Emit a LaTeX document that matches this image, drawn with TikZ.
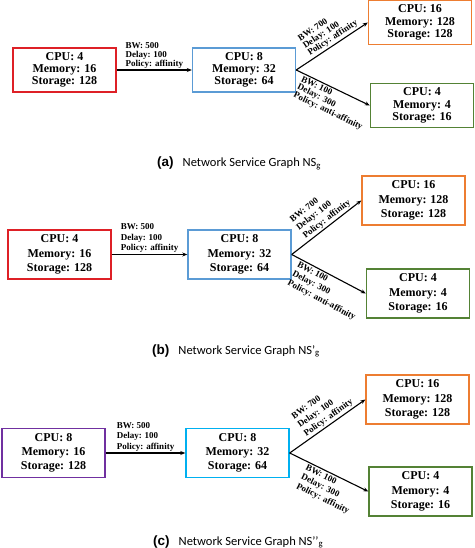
\documentclass[tikz,border=0pt]{standalone}
\usepackage{fontspec}
\setmainfont{Liberation Serif}
\newfontfamily\capfont{Carlito}
\newfontfamily\tagfont{Liberation Sans}
\usetikzlibrary{arrows.meta}
\definecolor{vnfred}{RGB}{222,32,38}
\definecolor{vnfblue}{RGB}{91,155,213}
\definecolor{vnforange}{RGB}{237,125,49}
\definecolor{vnfgreen}{RGB}{84,130,53}
\definecolor{vnfpurple}{RGB}{112,48,160}
\definecolor{vnfcyan}{RGB}{0,176,240}

\tikzset{
  vnf/.style={draw=#1, line width=1.4pt, minimum width=103pt, minimum height=49pt,
    align=center, inner sep=2pt, font=\bfseries\fontsize{12}{14.2}\selectfont},
  flat/.style={minimum height=44pt, font=\bfseries\fontsize{12}{12.2}\selectfont},
  link/.style={->, line width=1.1pt},
  linklabel/.style={align=left, inner sep=1.5pt, font=\bfseries\fontsize{9}{10.5}\selectfont},
  flatlabel/.style={font=\bfseries\fontsize{9}{8.8}\selectfont},
  caption/.style={anchor=base west, inner sep=0pt, font=\capfont\fontsize{12.5}{15}\selectfont}
}
\newcommand{\paneltag}[1]{{\tagfont\bfseries\fontsize{13.5}{15}\selectfont(#1)}\hspace{9pt}}

\begin{document}
\begin{tikzpicture}[x=1pt, y=-1pt, >={Stealth[length=5pt, width=4pt]}]
    \useasboundingbox (0,0) rectangle (474,548);

    % (a)
    \node[vnf=vnfred, flat] (srcA) at (64.5,70) {CPU: 4\\Memory: 16\\Storage: 128};
    \node[vnf=vnfblue, flat] (midA) at (244,70) {CPU: 8\\Memory: 32\\Storage: 64};
    \node[vnf=vnforange, flat] (upA) at (420,22.5) {CPU: 16\\Memory: 128\\Storage: 128};
    \node[vnf=vnfgreen, flat] (downA) at (422,105.5) {CPU: 4\\Memory: 4\\Storage: 16};

    \draw[link] (srcA) -- node[linklabel, flatlabel, above] {BW: 500\\Delay: 100\\Policy: affinity} (midA);
    \draw[link] (midA.east) -- node[linklabel, flatlabel, sloped, above, pos=0.56] {BW: 700\\Delay: 100\\Policy: affinity} (upA.west);
    \draw[link] (midA.east) -- node[linklabel, flatlabel, sloped, below, pos=0.57] {BW: 100\\Delay: 300\\Policy: anti-affinity} (downA.west);

    \node[caption] (capA) at (157,167) {\paneltag{a}Network Service Graph NS\textsubscript{g}};

    % (b)
    \node[vnf=vnfred] (srcB) at (59.5,254.5) {CPU: 4\\Memory: 16\\Storage: 128};
    \node[vnf=vnfblue] (midB) at (239.5,254.5) {CPU: 8\\Memory: 32\\Storage: 64};
    \node[vnf=vnforange] (upB) at (413.5,200.5) {CPU: 16\\Memory: 128\\Storage: 128};
    \node[vnf=vnfgreen] (downB) at (418,293.5) {CPU: 4\\Memory: 4\\Storage: 16};

    \draw[link] (srcB) -- node[linklabel, above] {BW: 500\\Delay: 100\\Policy: affinity} (midB);
    \draw[link] (midB.east) -- node[linklabel, sloped, above, pos=0.56] {BW: 700\\Delay: 100\\Policy: affinity} (upB.west);
    \draw[link] (midB.east) -- node[linklabel, sloped, below, pos=0.57] {BW: 100\\Delay: 300\\Policy: anti-affinity} (downB.west);

    \node[caption] (capB) at (152,354) {\paneltag{b}Network Service Graph NS’\textsubscript{g}};

    % (c)
    \node[vnf=vnfpurple] (srcC) at (53.5,453) {CPU: 8\\Memory: 16\\Storage: 128};
    \node[vnf=vnfcyan] (midC) at (237.5,453) {CPU: 8\\Memory: 32\\Storage: 64};
    \node[vnf=vnforange] (upC) at (417.5,399.5) {CPU: 16\\Memory: 128\\Storage: 128};
    \node[vnf=vnfgreen] (downC) at (420.5,491.5) {CPU: 4\\Memory: 4\\Storage: 16};

    \draw[link] (srcC) -- node[linklabel, above] {BW: 500\\Delay: 100\\Policy: affinity} (midC);
    \draw[link] (midC.east) -- node[linklabel, sloped, above, pos=0.56] {BW: 700\\Delay: 100\\Policy: affinity} (upC.west);
    \draw[link] (midC.east) -- node[linklabel, sloped, below, pos=0.57] {BW: 100\\Delay: 300\\Policy: affinity} (downC.west);

    \node[caption] (capC) at (153,545) {\paneltag{c}Network Service Graph NS’’\textsubscript{g}};
\end{tikzpicture}
\end{document}
